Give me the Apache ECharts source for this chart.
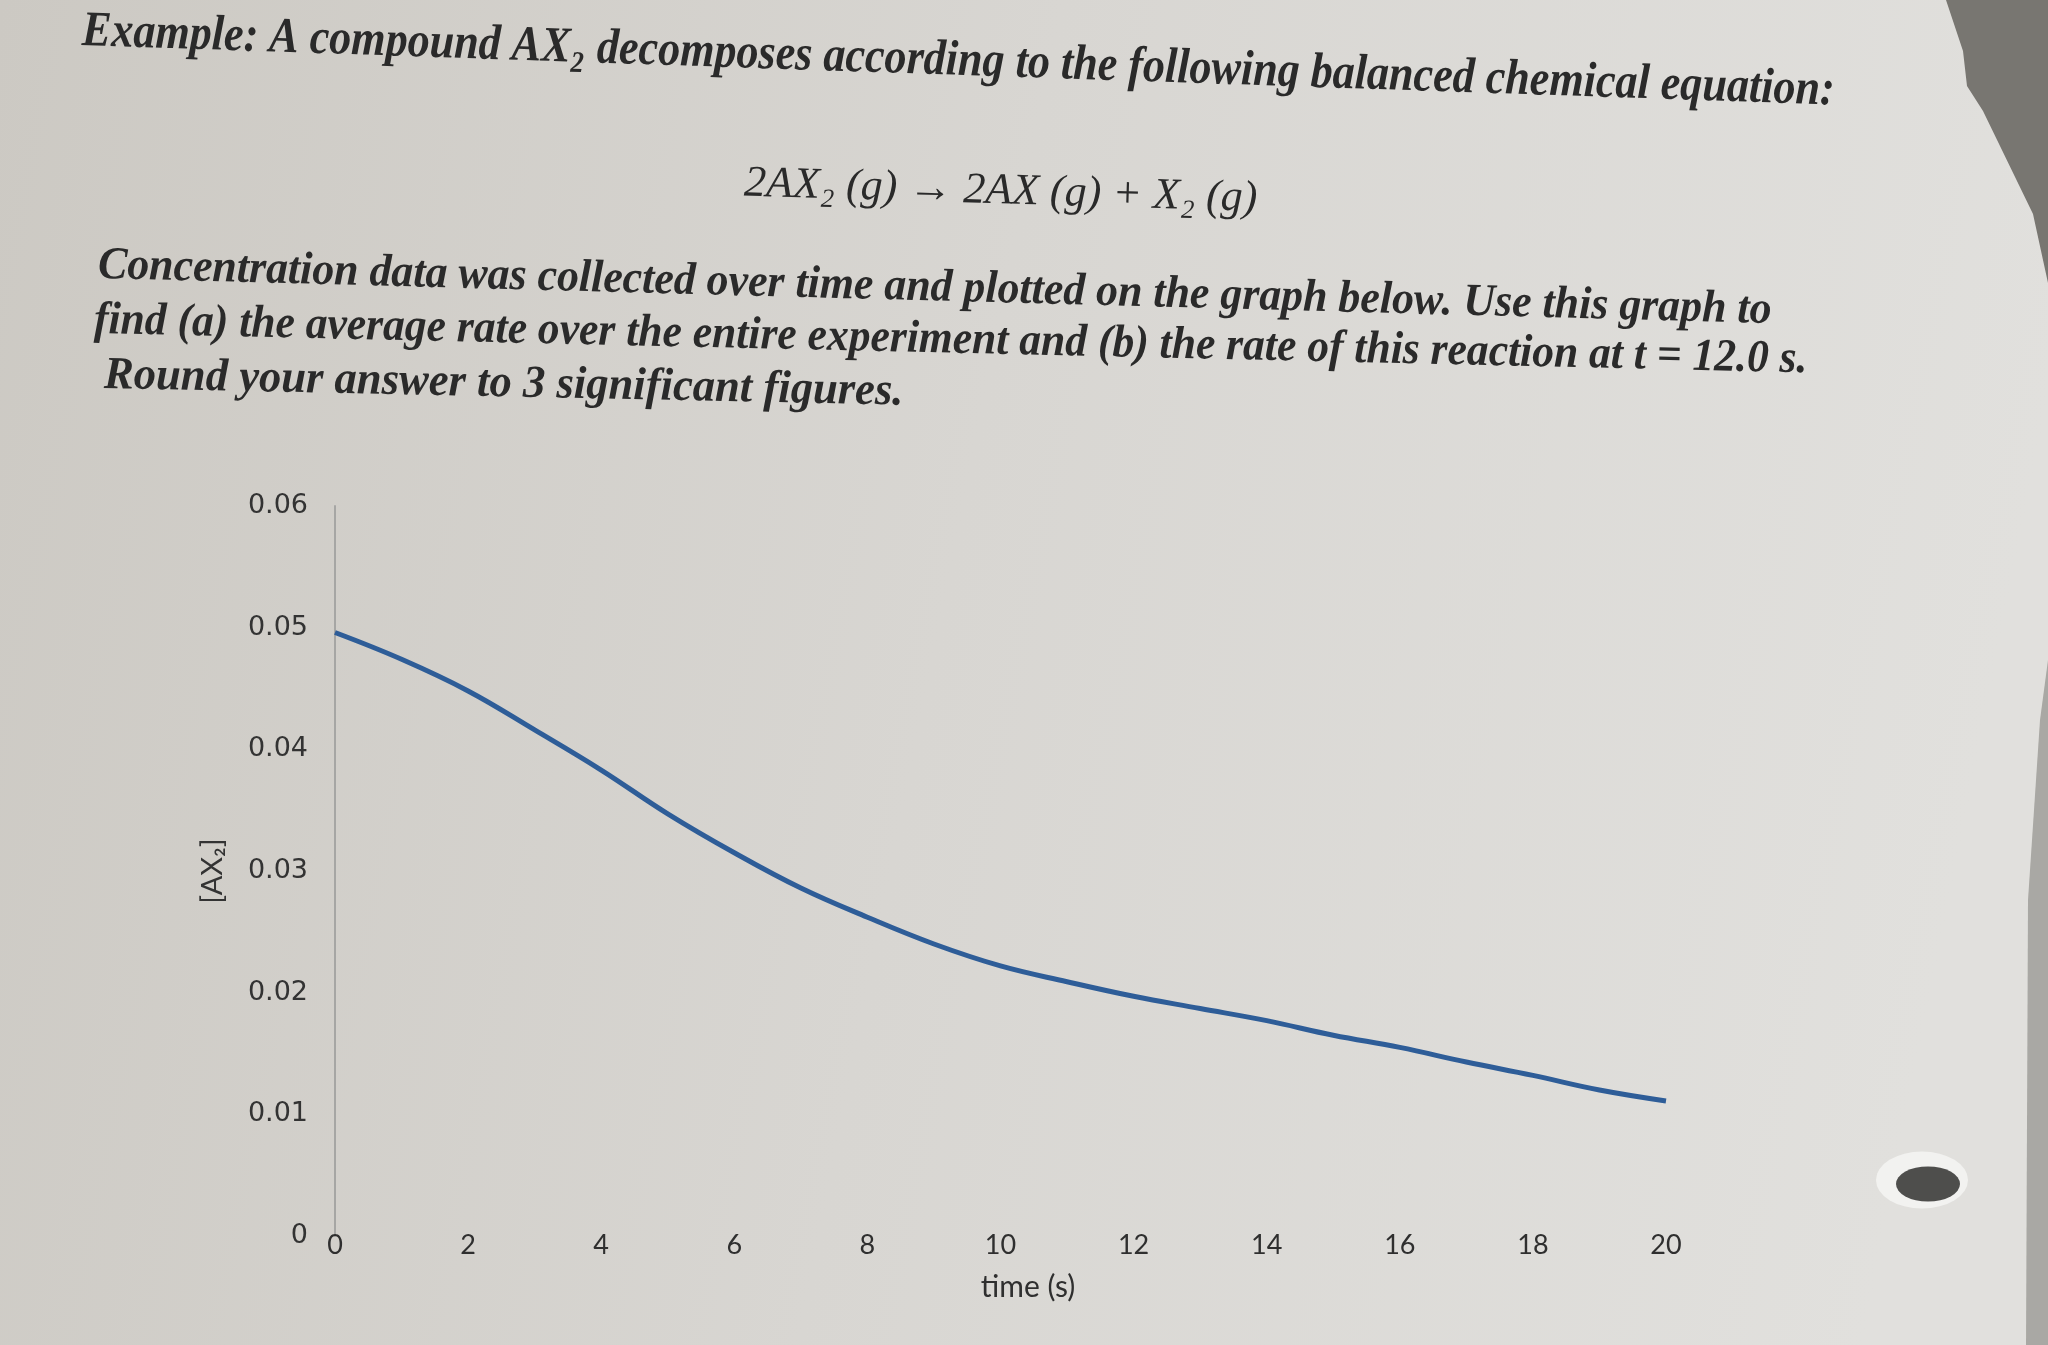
<!DOCTYPE html>
<html>
<head>
<meta charset="utf-8">
<script src="https://cdn.jsdelivr.net/npm/echarts@6/dist/echarts.min.js"></script>
<style>
html,body{margin:0;padding:0;background:#d6d4cf;}
#chart{width:2048px;height:1345px;}
</style>
</head>
<body>
<div id="chart"></div>
<script>
// ---- data ----
const times = [0,1,2,3,4,5,6,7,8,9,10,11,12,13,14,15,16,17,18,19,20];
const concAX2 = [0.0496,0.0474,0.0448,0.0416,0.0383,0.0347,0.0315,0.0286,0.0262,0.0240,0.0222,0.0209,0.0197,0.0187,0.0177,0.0165,0.0155,0.0143,0.0132,0.0120,0.0111];
const xTicks = {min:0, max:20, interval:2};
const yTicks = {min:0, max:0.06, interval:0.01};

const titleText = 'Example: A compound AX\u2082 decomposes according to the following balanced chemical equation:';
const equationText = '2AX\u2082 (g) \u2192 2AX (g) + X\u2082 (g)';
const paraLines = [
  'Concentration data was collected over time and plotted on the graph below. Use this graph to',
  'find (a) the average rate over the entire experiment and (b) the rate of this reaction at t = 12.0 s.',
  'Round your answer to 3 significant figures.'
];

const seriesData = times.map((t,i)=>[t, concAX2[i]]);
const serif = "'Liberation Serif','DejaVu Serif',serif";
const ink = '#2a2a2a';

function txt(s, x, y, size, rot, sx, weight){
  return {
    type:'text', x:x, y:y, rotation:rot, scaleX:sx, silent:true, z:10,
    style:{text:s, fill:ink, fontFamily:serif, fontStyle:'italic', fontWeight:weight,
           fontSize:size, textAlign:'left', textVerticalAlign:'middle'}
  };
}

const chart = echarts.init(document.getElementById('chart'), null, {renderer:'canvas'});
chart.setOption({
  animation:false,
  backgroundColor:'#d6d4cf',
  graphic:[
    {type:'rect', z:-100, silent:true, shape:{x:0,y:0,width:2048,height:1345},
     style:{fill:{type:'linear',x:0,y:0,x2:1,y2:0.3,colorStops:[
       {offset:0,color:'#ccc9c3'},{offset:0.5,color:'#d8d6d2'},{offset:1,color:'#e1e0dd'}]}}},
    {type:'polygon', z:-90, silent:true,
     shape:{points:[[1946,0],[2048,0],[2048,283],[2033,214],[1983,111],[1967,86],[1963,51]]},
     style:{fill:'#787671'}},
    {type:'polygon', z:-90, silent:true,
     shape:{points:[[2048,660],[2048,1345],[2026,1345],[2028,900],[2040,720]]},
     style:{fill:'#a9a8a4'}},
    {type:'circle', z:-80, silent:true, x:1922, y:1180, scaleY:0.62,
     shape:{cx:0,cy:0,r:46}, style:{fill:'#f2f2f0'}},
    {type:'circle', z:-79, silent:true, x:1928, y:1184, scaleY:0.55,
     shape:{cx:0,cy:0,r:32}, style:{fill:'#4e4e4c'}},
    txt(titleText, 82, 32, 50, -0.034, 0.882, 'bold'),
    txt(equationText, 744, 184, 44, -0.03, 1.0, 'normal'),
    txt(paraLines[0], 98, 266, 46, -0.027, 0.953, 'bold'),
    txt(paraLines[1], 94, 321, 46, -0.023, 0.947, 'bold'),
    txt(paraLines[2], 104, 376, 46, -0.021, 0.97, 'bold')
  ],
  grid:{left:335, right:382, top:506, bottom:109, containLabel:false},
  xAxis:{
    type:'value', min:xTicks.min, max:xTicks.max, interval:xTicks.interval,
    name:'time (s)', nameLocation:'middle', nameGap:36,
    nameTextStyle:{fontFamily:"Lato,'Open Sans',sans-serif", fontSize:30, color:'#2f2f2f', padding:[0,0,0,55]},
    axisLine:{show:false}, axisTick:{show:false}, splitLine:{show:false},
    axisLabel:{fontFamily:"Lato,'Open Sans',sans-serif", fontSize:27, color:'#2f2f2f', margin:-4}
  },
  yAxis:{
    type:'value', min:yTicks.min, max:yTicks.max, interval:yTicks.interval,
    name:'[AX\u2082]', nameLocation:'middle', nameRotate:90, nameGap:108,
    nameTextStyle:{fontFamily:"Lato,'Noto Sans','DejaVu Sans',sans-serif", fontSize:29, color:'#333'},
    axisLine:{show:true, lineStyle:{color:'#a6a6a4', width:2}},
    axisTick:{show:false}, splitLine:{show:false},
    axisLabel:{fontFamily:"'DejaVu Sans',Verdana,sans-serif", fontSize:27, color:'#333', margin:27,
      formatter:function(v){ return v===0 ? '0' : v.toFixed(2); }}
  },
  series:[{
    type:'line', data:seriesData, smooth:0.4, showSymbol:false,
    lineStyle:{color:'#2e5d98', width:5}
  }]
});
</script>
</body>
</html>
